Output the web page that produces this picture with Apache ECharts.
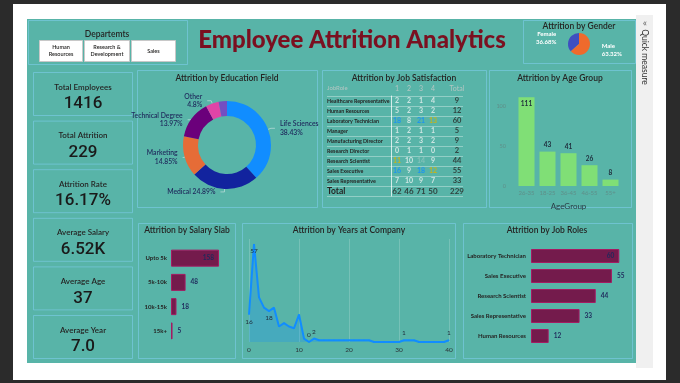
<!DOCTYPE html>
<html><head><meta charset="utf-8">
<script src="https://cdn.jsdelivr.net/npm/echarts@6/dist/echarts.min.js"></script>
<style>html,body{margin:0;padding:0;background:#2b2b2b;}#c{width:680px;height:383px;}</style>
</head><body><div id="c"></div>
<script>
// ---------------- DATA ----------------
const departments = ['Human\nResources', 'Research &\nDevelopment', 'Sales'];
const kpiLabels = ['Total Employees', 'Total Attrition', 'Attrition Rate', 'Average Salary', 'Average Age', 'Average Year'];
const kpiValues = ['1416', '229', '16.17%', '6.52K', '37', '7.0'];
const genderNames = ['Female', 'Male'];
const genderValues = [84, 145];
const eduFields = ['Life Sciences', 'Medical', 'Marketing', 'Technical Degree', 'Other', 'Human Resources'];
const eduValues = [88, 57, 34, 32, 11, 7];
const jsRoles = ['Healthcare Representative', 'Human Resources', 'Laboratory Technician', 'Manager',
  'Manufacturing Director', 'Research Director', 'Research Scientist', 'Sales Executive', 'Sales Representative'];
const jsLevels = ['1', '2', '3', '4'];
const jsValues = [
  [2, 2, 1, 4], [5, 2, 3, 2], [18, 8, 21, 13], [1, 2, 1, 1], [2, 2, 3, 2],
  [0, 1, 1, 0], [11, 10, 14, 9], [16, 9, 18, 12], [7, 10, 9, 7]
];
const jsRowTotals = [9, 12, 60, 5, 9, 2, 44, 55, 33];
const jsColTotals = [62, 46, 71, 50];
const jsGrandTotal = 229;
const ageGroups = ['26-35', '18-25', '36-45', '46-55', '55+'];
const ageValues = [111, 43, 41, 26, 8];
const salarySlabs = ['Upto 5k', '5k-10k', '10k-15k', '15k+'];
const salaryValues = [158, 48, 18, 5];
const yearsAtCompany = [0,1,2,3,4,5,6,7,8,9,10,11,12,13,14,15,16,17,18,19,20,21,22,23,24,25,26,27,28,29,30,31,32,33,34,35,36,37,38,39,40];
const yearsAttrition = [16,57,26,20,18,20,9,11,9,8,16,2,0,2,1,1,1,1,1,1,1,1,1,1,1,0,0,0,0,0,0,1,1,1,0,0,0,0,0,0,1];
const yearsLabelled = [0, 1, 4, 12, 13, 31, 40];
const jobRoles = ['Laboratory Technician', 'Sales Executive', 'Research Scientist', 'Sales Representative', 'Human Resources'];
const jobRoleValues = [60, 55, 44, 33, 12];

// ---------------- LAYOUT / STYLE ----------------
const TEAL = '#58b4a8';
const BORDER = 'rgba(125,205,235,0.6)';
const DARK = '#252423';
const NAVY = '#1f2a5c';
const FONT = 'Lato';
const g = [];
function rect(x, y, w, h, fill, stroke, lw) {
  g.push({ type: 'rect', shape: { x, y, width: w, height: h }, style: { fill, stroke: stroke || null, lineWidth: lw || 0 }, silent: true });
}
function txt(x, y, t, font, fill, align, extra) {
  g.push(Object.assign({ type: 'text', x, y, style: { text: t, font, fill, align: align || 'center', verticalAlign: 'middle' }, silent: true, z: 10 }, extra || {}));
}
// frame
rect(13, 4, 653, 376, '#ffffff');
rect(27, 19, 609, 344, TEAL);
rect(636, 15, 17, 353, '#f0f0f0');
txt(645, 23, '«', '10px ' + FONT, '#666');
txt(645, 57, 'Quick measure', '8.5px ' + FONT, '#333', 'center', { rotation: -Math.PI / 2 });
// cards
const cards = [[28,20,159,44],[523,20,112,43],[137,70,180,137],[322,70,164,137],[489,70,142,137],[138,223,97,135],[242,223,213,135],[463,223,169,135]];
cards.forEach(c => rect(c[0] + 0.5, c[1] + 0.5, c[2], c[3], null, BORDER, 1));
// slicer
txt(107, 34, 'Departemts', '600 8.5px ' + FONT, DARK);
const btnX = [39, 84, 131], btnW = [43, 45, 44];
departments.forEach((d, i) => {
  rect(btnX[i] + 0.5, 40.5, btnW[i], 21, '#ffffff', '#c8c8c8', 1);
  txt(btnX[i] + btnW[i] / 2 + 0.5, 51, d, '600 5.5px ' + FONT, DARK, 'center', { style: { text: d, font: '600 5.5px ' + FONT, fill: DARK, align: 'center', verticalAlign: 'middle', lineHeight: 7 } });
});
// main title
txt(352, 40, 'Employee Attrition Analytics', '900 24px ' + FONT, '#7a1020');
// KPI cards
kpiLabels.forEach((l, i) => {
  const y = 72 + i * 48.6;
  rect(33.5, y + 0.5, 99, 43, null, BORDER, 1);
  txt(83, y + 15, l, '600 8px ' + FONT, DARK);
  txt(83, y + 32, kpiValues[i], '500 17px Roboto', '#1a1a1a');
});
// card titles
const cardTitles = [['Attrition by Gender', 579, 26], ['Attrition by Education Field', 227, 78], ['Attrition by Job Satisfaction', 404, 78],
  ['Attrition by Age Group', 560, 78], ['Attrition by Salary Slab', 187, 230], ['Attrition by Years at Company', 349, 230], ['Attrition by Job Roles', 547, 230]];
cardTitles.forEach(t => txt(t[1], t[2], t[0], '600 8.5px ' + FONT, DARK));
txt(327, 88, 'JobRole', '6px ' + FONT, '#b3c6c3', 'left');

// ---------------- CHART ----------------
function cellColor(v) {
  if (v >= 15) return '#118dff';
  if (v === 14) return '#8cc4bd';
  if (v >= 11) return '#d8b400';
  return '#eef2f2';
}
const cellData = [];
jsValues.forEach((row, r) => row.forEach((v, c) => cellData.push({ value: [c, r, v], label: { color: cellColor(v) } })));
jsRowTotals.forEach((v, r) => cellData.push({ value: [5, r, v], label: { color: DARK, fontSize: 7.5 } }));
jsColTotals.forEach((v, c) => cellData.push({ value: [c, 9, v], label: { color: DARK, fontSize: 8, fontWeight: 'bold' } }));
cellData.push({ value: [5, 9, jsGrandTotal], label: { color: DARK, fontSize: 8, fontWeight: 'bold' } });

const maxSal = Math.max(...salaryValues), maxRole = Math.max(...jobRoleValues);
const option = {
  animation: false,
  textStyle: { fontFamily: FONT },
  graphic: g,
  grid: [
    { left: 391, top: 96, width: 72, height: 100 },
    { left: 516, top: 90, width: 105, height: 96 },
    { left: 171, top: 246, width: 76, height: 97 },
    { left: 249, top: 239, width: 200, height: 103 },
    { left: 531, top: 246, width: 103, height: 100 }
  ],
  xAxis: [
    { gridIndex: 0, type: 'category', position: 'top', data: jsLevels.concat(['', 'Total']), axisLine: { show: false }, axisTick: { show: false },
      axisLabel: { color: '#b3c6c3', fontSize: 7, margin: 4, interval: 0, hideOverlap: false }, splitLine: { show: false } },
    { gridIndex: 1, type: 'category', data: ageGroups, axisLine: { show: false }, axisTick: { show: false },
      axisLabel: { color: '#5f8f89', fontSize: 6, margin: 4, interval: 0 }, name: 'AgeGroup', nameLocation: 'middle', nameGap: 16,
      nameTextStyle: { color: '#2a3a44', fontSize: 8 } },
    { gridIndex: 2, type: 'value', min: 0, max: 250, show: false },
    { gridIndex: 3, type: 'value', min: 0, max: 40, interval: 10, axisLine: { show: false }, axisTick: { show: false },
      axisLabel: { color: '#2b3338', fontSize: 6.5, margin: 4 }, splitLine: { show: true, lineStyle: { color: 'rgba(255,255,255,0.18)' } } },
    { gridIndex: 4, type: 'value', min: 0, max: 70, show: false }
  ],
  yAxis: [
    { gridIndex: 0, type: 'category', inverse: true, data: jsRoles.concat(['Total']),
      axisLine: { show: true, lineStyle: { color: 'rgba(255,255,255,0.75)' } },
      axisTick: { show: true, length: 64, lineStyle: { color: 'rgba(255,255,255,0.35)' } },
      splitLine: { show: true, lineStyle: { color: 'rgba(255,255,255,0.35)' } },
      axisLabel: { align: 'left', margin: 64, color: DARK, fontSize: 5.3, fontWeight: 'bold', interval: 0,
        formatter: v => v === 'Total' ? '{t|Total}' : v, rich: { t: { fontSize: 8.5, fontWeight: 'bold', color: DARK } } } },
    { gridIndex: 1, type: 'value', min: 0, max: 120, interval: 50, axisLine: { show: false }, axisTick: { show: false },
      axisLabel: { color: '#5f8f89', fontSize: 5.5, margin: 10, showMaxLabel: false }, splitLine: { show: false } },
    { gridIndex: 2, type: 'category', inverse: true, data: salarySlabs, axisLine: { show: false }, axisTick: { show: false },
      axisLabel: { color: DARK, fontSize: 6, fontWeight: 'bold', margin: 4, interval: 0 } },
    { gridIndex: 3, type: 'value', min: 0, max: 60, show: false },
    { gridIndex: 4, type: 'category', inverse: true, data: jobRoles, axisLine: { show: false }, axisTick: { show: false },
      axisLabel: { color: DARK, fontSize: 6, fontWeight: 'bold', margin: 5, interval: 0 } }
  ],
  series: [
    { type: 'pie', center: [579, 44], radius: 11, startAngle: 222, clockwise: true,
      data: genderNames.map((n, i) => ({ name: n, value: genderValues[i] })),
      color: ['#3f4fc0', '#ef6a2c'],
      label: { show: true, position: 'outside', formatter: '{b}\n{d}%', color: '#ffffff', fontSize: 6, fontWeight: 'bold', lineHeight: 8, align: 'left' },
      labelLine: { show: false, length: 4, length2: 4 } },
    { type: 'pie', center: [227, 145], radius: [29, 44], startAngle: 90, clockwise: true,
      data: eduFields.map((n, i) => ({ name: n, value: eduValues[i], label: { show: n !== 'Human Resources' }, labelLine: { show: n !== 'Human Resources' } })),
      color: ['#118dff', '#12239e', '#e66c37', '#6b007b', '#e044a7', '#744ec2'],
      label: { color: NAVY, fontSize: 6.8, fontWeight: 600, lineHeight: 8.5,
        formatter: p => p.name === 'Medical' ? p.name + ' ' + p.percent + '%' : p.name + '\n' + p.percent + '%' },
      labelLine: { length: 3, length2: 4, lineStyle: { color: 'rgba(220,235,235,0.8)', width: 0.7 } } },
    { type: 'scatter', xAxisIndex: 0, yAxisIndex: 0, symbolSize: 0.1, itemStyle: { color: 'rgba(0,0,0,0)' },
      label: { show: true, position: 'inside', formatter: p => String(p.value[2]), fontSize: 7, fontWeight: 'bold' },
      data: cellData },
    { type: 'bar', xAxisIndex: 1, yAxisIndex: 1, data: ageValues.map((v, i) => ({ value: v, label: { position: i === 0 ? 'insideTop' : 'top' } })),
      barWidth: 16, itemStyle: { color: '#80df76' },
      label: { show: true, color: '#1e2a3a', fontSize: 6.5, fontWeight: 'bold', distance: 3 } },
    { type: 'bar', xAxisIndex: 2, yAxisIndex: 2, barWidth: 17,
      data: salaryValues.map(v => ({ value: v, label: { position: v === maxSal ? 'insideRight' : 'right' } })),
      itemStyle: { color: '#741b4c', borderColor: '#a51a62', borderWidth: 1 },
      label: { show: true, color: NAVY, fontSize: 6.5, fontWeight: 'bold', distance: 5 } },
    { type: 'line', xAxisIndex: 3, yAxisIndex: 3, symbol: 'circle', symbolSize: 1, showSymbol: true,
      data: yearsAtCompany.map((y, i) => ({ value: [y, yearsAttrition[i]],
        label: { show: yearsLabelled.includes(y), position: yearsAttrition[i] > 10 ? 'bottom' : 'top' } })),
      lineStyle: { color: '#118dff', width: 2 }, itemStyle: { color: '#118dff' },
      areaStyle: { color: 'rgba(17,141,255,0.35)' },
      label: { color: '#1e2a3a', fontSize: 6.5, distance: 3 } },
    { type: 'bar', xAxisIndex: 4, yAxisIndex: 4, barWidth: 14,
      data: jobRoleValues.map(v => ({ value: v, label: { position: v === maxRole ? 'insideRight' : 'right' } })),
      itemStyle: { color: '#741b4c', borderColor: '#a51a62', borderWidth: 1 },
      label: { show: true, color: NAVY, fontSize: 6.5, fontWeight: 'bold', distance: 5 } }
  ]
};
const chart = echarts.init(document.getElementById('c'), null, { width: 680, height: 383 });
chart.setOption(option);
</script></body></html>
